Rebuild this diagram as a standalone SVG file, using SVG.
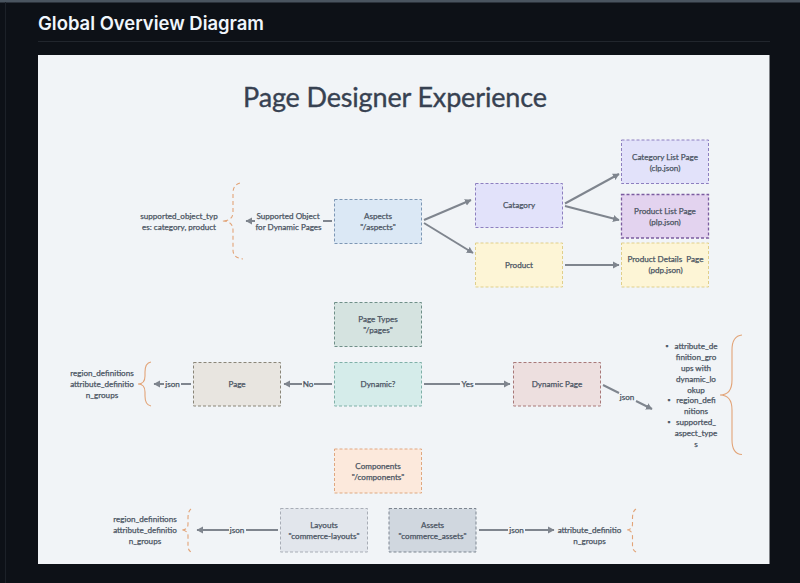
<svg xmlns="http://www.w3.org/2000/svg" width="800" height="583" viewBox="0 0 800 583">
<style>
text{font-family:"Lato","Liberation Sans",sans-serif;fill:#4b5563;font-size:8.100px;text-anchor:middle;stroke:#4b5563;stroke-width:.25px}
.n rect{stroke-width:1;stroke-dasharray:3 2}
.c line{stroke:#7f858e;stroke-width:2;fill:none}
.c .a{marker-end:url(#ah)}
.b{fill:none;stroke:#e2a478;stroke-width:1.100}
.d{stroke-dasharray:4 3}
.u{font-size:6px}
</style>
<defs><marker id="ah" markerUnits="userSpaceOnUse" markerWidth="7" markerHeight="8" refX="6" refY="4" orient="auto"><path d="M0 0.500L6.500 4L0 7.500z" fill="#7f858e"/></marker></defs>
<rect width="800" height="583" fill="#0d1117"/>
<rect width="800" height="2.500" fill="#4a5560"/>
<rect x="5" y="2" width="1" height="581" fill="#1c2128"/>
<rect x="38" y="41" width="732" height="1" fill="#21262d"/>
<text x="38" y="30" style="font-family:Inter,'Liberation Sans',sans-serif;font-size:18.500px;font-weight:600;fill:#f0f6fc;text-anchor:start;stroke:none" textLength="226" lengthAdjust="spacingAndGlyphs">Global Overview Diagram</text>
<rect x="38" y="55" width="731.500" height="509" fill="#f1f4f7"/>
<text x="395" y="106.500" style="font-size:27px;fill:#374151;stroke:#374151;stroke-width:.35px" textLength="304" lengthAdjust="spacing">Page Designer Experience</text>
<g class="c" id="connectors">
<line class="a" x1="424" y1="220" x2="471" y2="200"/>
<line class="a" x1="424" y1="223" x2="473" y2="253"/>
<line class="a" x1="565" y1="203.500" x2="619" y2="174"/>
<line class="a" x1="565" y1="206" x2="619" y2="220"/>
<line class="a" x1="565" y1="265" x2="619" y2="265"/>
<line x1="332" y1="221" x2="323" y2="221"/>
<line class="a" x1="255" y1="221" x2="246" y2="221"/>
<line x1="332" y1="384" x2="314" y2="384"/>
<line class="a" x1="302" y1="384" x2="284" y2="384"/>
<line x1="191" y1="384" x2="181" y2="384"/>
<line class="a" x1="164" y1="384" x2="154" y2="384"/>
<line x1="424" y1="384" x2="460" y2="384"/>
<line class="a" x1="475" y1="384" x2="510" y2="384"/>
<line x1="603" y1="385" x2="619" y2="393"/>
<line class="a" x1="636" y1="401" x2="652" y2="409"/>
<line x1="278" y1="530" x2="246" y2="530"/>
<line class="a" x1="229" y1="530" x2="197" y2="530"/>
<line x1="479" y1="530" x2="508" y2="530"/>
<line class="a" x1="525" y1="530" x2="554" y2="530"/>
</g>
<g id="connector-labels">
<text x="288" y="219">Supported Object</text><text x="288.500" y="230">for Dynamic Pages</text>
<text x="308" y="387">No</text><text x="172.500" y="387">json</text><text x="467.500" y="387">Yes</text><text x="627" y="400">json</text><text x="237" y="533">json</text><text x="516.500" y="533">json</text>
</g>
<g id="aspects" class="n"><rect x="334.500" y="199.500" width="87" height="44" fill="#dbe8f5" stroke="#7d97b5"/><text x="378" y="219">Aspects</text><text x="378" y="230">"/aspects"</text></g>
<g id="catagory" class="n"><rect x="475.500" y="183.500" width="87" height="44" fill="#e2e2fa" stroke="#8d7fc0"/><text x="519" y="208">Catagory</text></g>
<g id="product" class="n"><rect x="475.500" y="243" width="87" height="44" fill="#fdf5d6" stroke="#e0cf8a"/><text x="519" y="268">Product</text></g>
<g id="clp" class="n"><rect x="621.500" y="140" width="87" height="43.500" fill="#e2e2fa" stroke="#8d7fc0"/><text x="665" y="159.500">Category List Page</text><text x="665" y="170.500">(clp.json)</text></g>
<g id="plp" class="n"><rect x="621.500" y="194.500" width="87" height="43.500" fill="#e3d3ef" stroke="#7c5ca0" style="stroke-width:1.300"/><text x="665" y="213.500">Product List Page</text><text x="665" y="224.500">(plp.json)</text></g>
<g id="pdp" class="n"><rect x="621.500" y="243" width="87" height="44" fill="#fdf5d6" stroke="#e0cf8a"/><text x="665.500" y="262" xml:space="preserve">Product Details  Page</text><text x="665.500" y="273">(pdp.json)</text></g>
<g id="page-types" class="n"><rect x="334.500" y="302.500" width="87" height="44" fill="#d5e3e0" stroke="#6f8f88"/><text x="378" y="322">Page Types</text><text x="378" y="333">"/pages"</text></g>
<g id="dynamic" class="n"><rect x="334.500" y="362.500" width="87" height="43.500" fill="#d5ecea" stroke="#7fb0a8"/><text x="378" y="387">Dynamic?</text></g>
<g id="page" class="n"><rect x="193.500" y="362.500" width="87" height="43.500" fill="#e8e5e0" stroke="#8a8578"/><text x="237" y="387">Page</text></g>
<g id="dynamic-page" class="n"><rect x="513.500" y="362.500" width="87" height="43.500" fill="#eddfdf" stroke="#a87878"/><text x="557" y="387">Dynamic Page</text></g>
<g id="components" class="n"><rect x="334.500" y="449" width="87" height="44" fill="#fce9dc" stroke="#e0a880"/><text x="378" y="468.500">Components</text><text x="378" y="479.500">"/components"</text></g>
<g id="layouts" class="n"><rect x="280.500" y="508.500" width="87" height="43.500" fill="#e2e6ec" stroke="#a8adb6"/><text x="324" y="528">Layouts</text><text x="324" y="539">"commerce-layouts"</text></g>
<g id="assets" class="n"><rect x="389" y="508.500" width="87" height="43.500" fill="#d0d7df" stroke="#7d8590"/><text x="432.500" y="528">Assets</text><text x="432.500" y="539">"commerce_assets"</text></g>
<g id="note-object"><path class="b d" d="M240 183Q233 185 233 193V212Q233 221 222 221Q233 221 233 230V250Q233 258 243 259"/><text x="179" y="219">supported_object_typ</text><text x="179" y="230">es: category, product</text></g>
<g id="note-page"><path class="b" d="M151 362Q145 363 145 372V376Q145 384 138 384Q145 384 145 392V396Q145 405 151 406"/><text x="102" y="376">region_definitions</text><text x="102" y="387">attribute_definitio</text><text x="102" y="398">n_groups</text></g>
<g id="note-layouts"><path class="b d" d="M191 509Q188 511 188 518V524Q188 530 181 530Q188 530 188 536V546Q188 550 191 552"/><text x="145" y="522">region_definitions</text><text x="145" y="533">attribute_definitio</text><text x="145" y="544">n_groups</text></g>
<g id="note-assets"><path class="b d" d="M636 509Q632.500 511 632.500 518V524Q632.500 530 626 530Q632.500 530 632.500 536V546Q632.500 550 636 552"/><text x="589.500" y="533">attribute_definitio</text><text x="589.500" y="544">n_groups</text></g>
<g id="note-dynamic"><path class="b" d="M742 335Q732 336 732 350V380Q732 395 720 395Q732 395 732 410V440Q732 454 742 454.500"/>
<text class="u" x="667" y="348">•</text><text x="696" y="349">attribute_de</text><text x="696" y="360">finition_gro</text><text x="696" y="371">ups with</text><text x="696" y="382">dynamic_lo</text><text x="696" y="393">okup</text>
<text class="u" x="669" y="402">•</text><text x="696" y="403">region_defi</text><text x="696" y="414">nitions</text>
<text class="u" x="669" y="424">•</text><text x="696" y="425">supported_</text><text x="696" y="436">aspect_type</text><text x="696" y="447">s</text></g>
</svg>
